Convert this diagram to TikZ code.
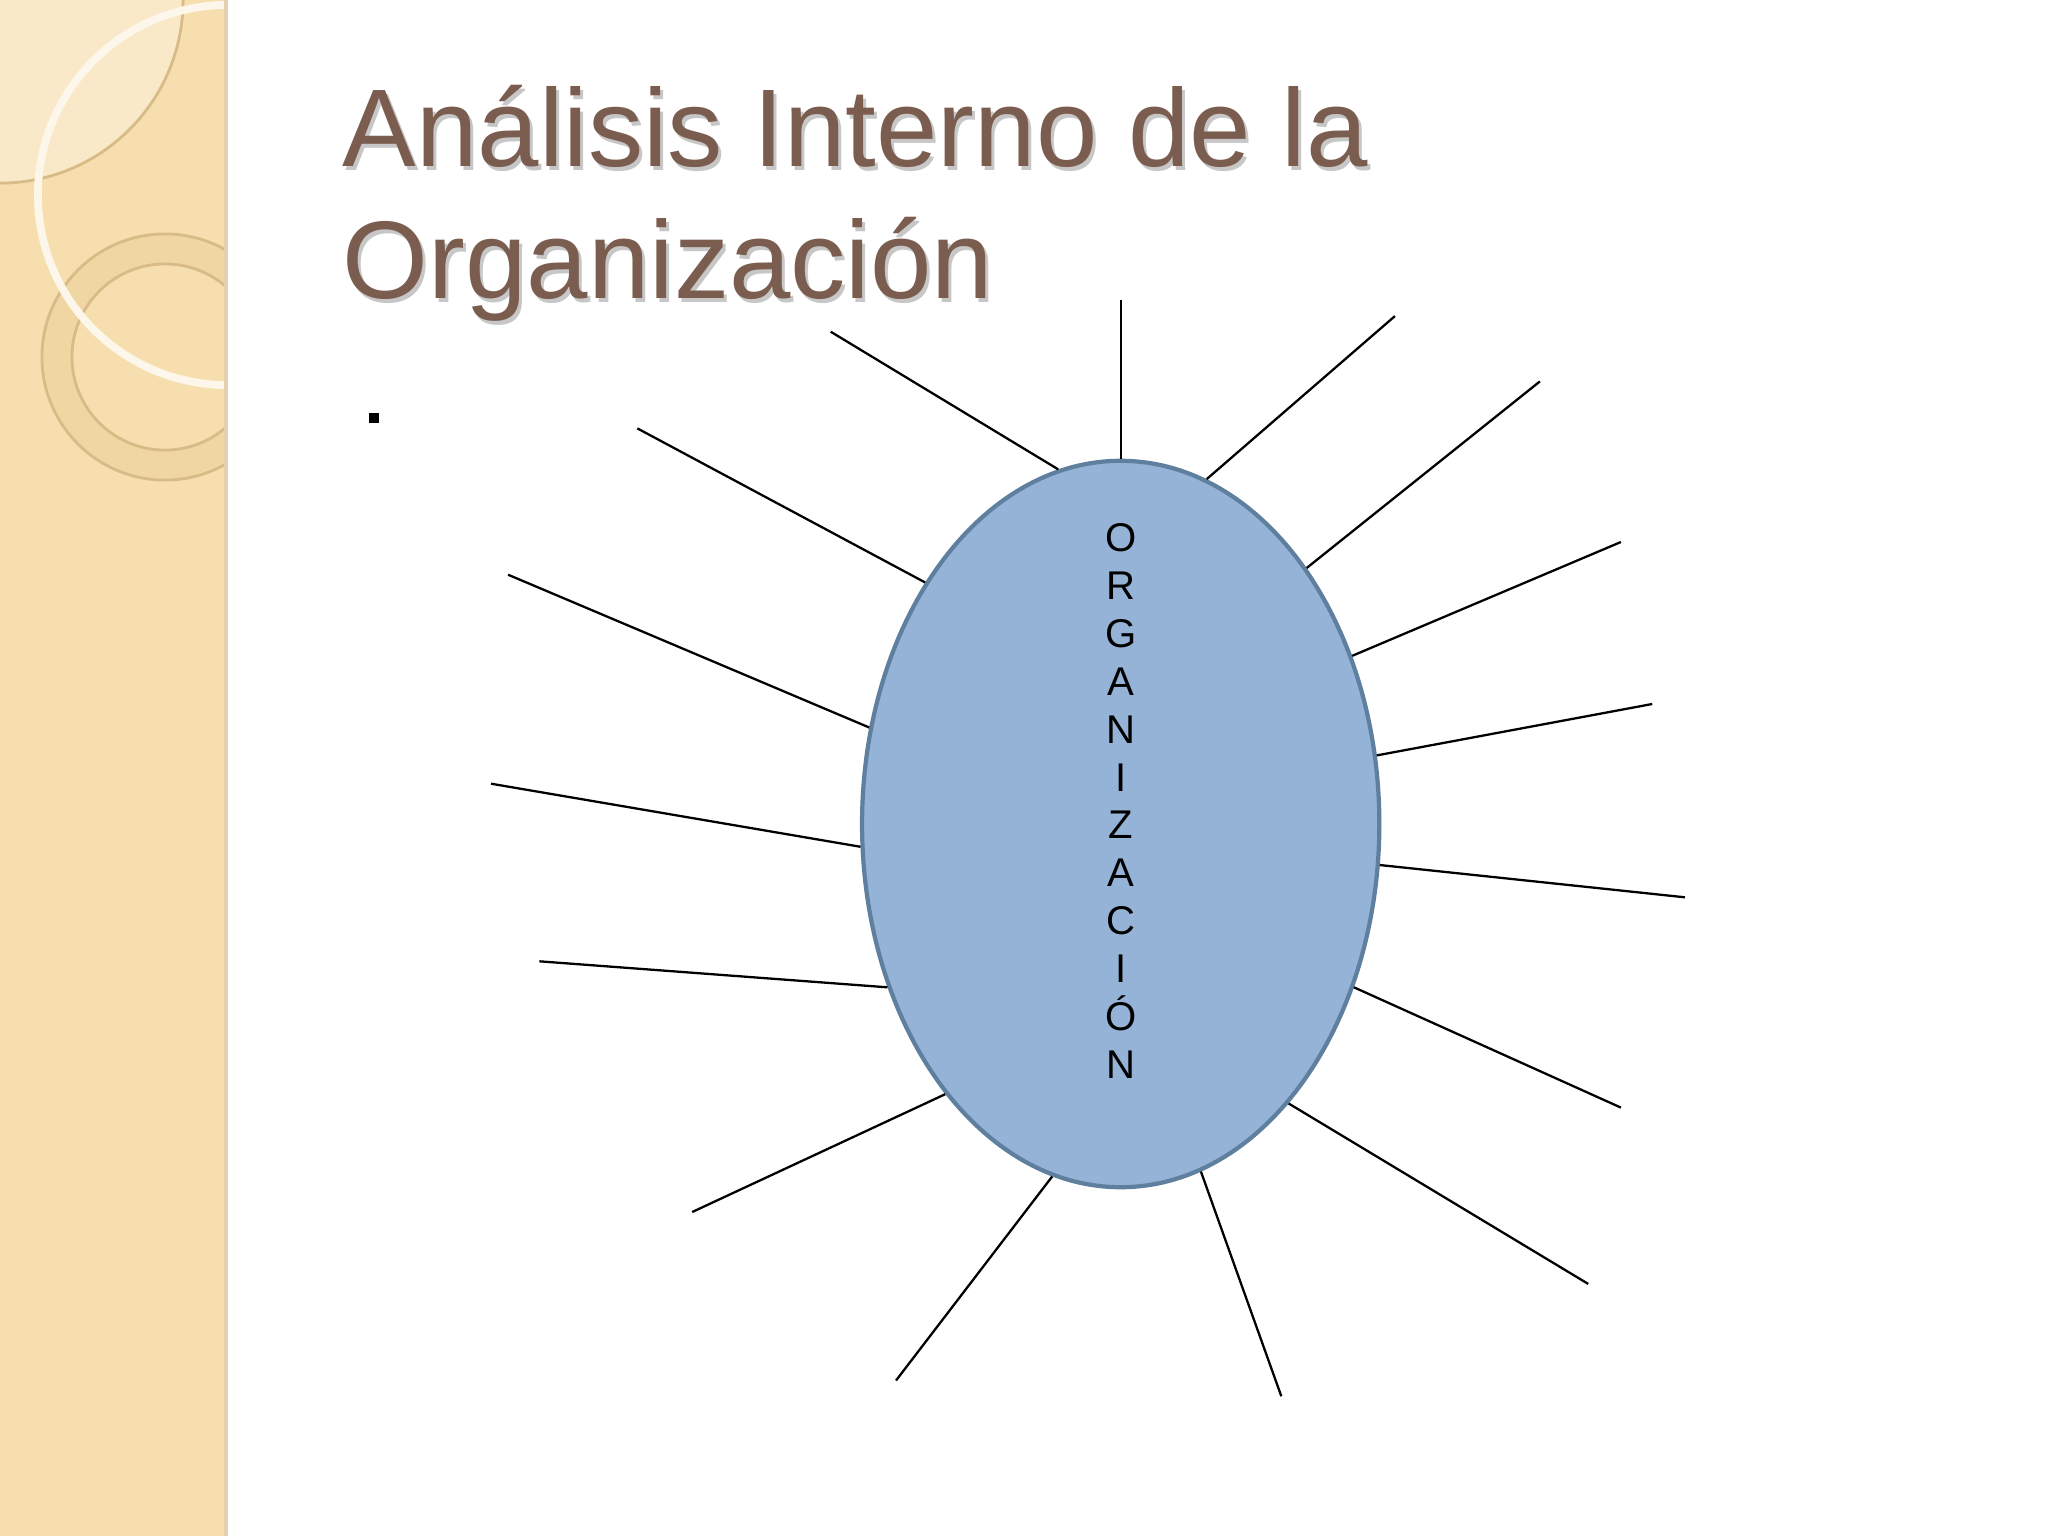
\documentclass[tikz,border=0pt]{standalone}
\usepackage{fontspec}
\setmainfont{Liberation Sans}
\usetikzlibrary{shapes.geometric}
\definecolor{band}{HTML}{F7DEAE}
\definecolor{bandlight}{HTML}{FAE9C8}
\definecolor{ringc}{HTML}{F0D6A2}
\definecolor{ringedge}{HTML}{D8BC88}
\definecolor{titlec}{HTML}{7B5D50}
\definecolor{ellfill}{HTML}{95B3D7}
\definecolor{elldraw}{HTML}{5F7F9E}
\begin{document}
\begin{tikzpicture}[x=0.01cm,y=-0.01cm,
  spoke/.style={line width=0.65pt, black},
  titletext/.style={anchor=base west, inner sep=0, text=titlec, font=\fontsize{31.4pt}{37.5pt}\selectfont},
  titleshadow/.style={anchor=base west, inner sep=0, text=black!22, font=\fontsize{31.4pt}{37.5pt}\selectfont}]
\useasboundingbox (0,0) rectangle (2048,1536);
\fill[white] (0,0) rectangle (2048,1536);
% left decorative band
\begin{scope}
\clip (0,0) rectangle (227,1536);
\fill[band] (0,0) rectangle (227,1536);
\fill[bandlight] (0,0) circle (1.83cm);
\draw[ringedge, line width=0.8pt] (0,0) circle (1.83cm);
\draw[ringc, line width=0.3cm] (165,357) circle (1.08cm);
\draw[ringedge, line width=0.8pt] (165,357) circle (1.23cm);
\draw[ringedge, line width=0.8pt] (165,357) circle (0.93cm);
\draw[white!75!band, line width=2.2pt] (228,195) circle (1.90cm);
\end{scope}
\draw[ringedge!70!white, line width=1.2pt] (226,0) -- (226,1536);
% title
\node[titleshadow] at (345,170) {Análisis Interno de la};
\node[titleshadow] at (345,302) {Organización};
\node[titletext] (t1) at (342,166) {Análisis Interno de la};
\node[titletext] (t2) at (342,298) {Organización};
% bullet
\node[fill=black, minimum size=0.1cm, inner sep=0] (bul) at (373.5,418) {};
% ellipse
\node[ellipse, draw=elldraw, fill=ellfill, line width=1.2pt, minimum width=5.17cm, minimum height=7.26cm, inner sep=0] (org) at (1120.7,824) {};
\node[align=center, inner sep=0, font=\fontsize{11.4pt}{13.63pt}\selectfont] (orgtext) at (1120.7,801)
 {O\\R\\G\\A\\N\\I\\Z\\A\\C\\I\\Ó\\N};
% spoke ends
\coordinate (s1) at (1120.7,300.4);
\coordinate (s2) at (830.7,331.7);
\coordinate (s3) at (637.4,428.4);
\coordinate (s4) at (508.1,574.7);
\coordinate (s5) at (491.1,783.7);
\coordinate (s6) at (539.4,961.3);
\coordinate (s7) at (692.2,1212);
\coordinate (s8) at (896,1380.5);
\coordinate (s9) at (1281.3,1396.2);
\coordinate (s10) at (1588.2,1283.9);
\coordinate (s11) at (1620.9,1107.6);
\coordinate (s12) at (1684.9,897.3);
\coordinate (s13) at (1652.2,704);
\coordinate (s14) at (1620.9,542);
\coordinate (s15) at (1539.9,381.4);
\coordinate (s16) at (1394.9,316.1);
\draw[spoke] (org.90) -- (s1);
\draw[spoke] (org.100.7) -- (s2);
\draw[spoke] (org.129.6) -- (s3);
\draw[spoke] (org.159.8) -- (s4);
\draw[spoke] (org.185.5) -- (s5);
\draw[spoke] (org.215.1) -- (s6);
\draw[spoke] (org.237.8) -- (s7);
\draw[spoke] (org.259.3) -- (s8);
\draw[spoke] (org.283.1) -- (s9);
\draw[spoke] (org.301.3) -- (s10);
\draw[spoke] (org.325.7) -- (s11);
\draw[spoke] (org.351.1) -- (s12);
\draw[spoke] (org.15.8) -- (s13);
\draw[spoke] (org.36.9) -- (s14);
\draw[spoke] (org.54.6) -- (s15);
\draw[spoke] (org.76.9) -- (s16);
\end{tikzpicture}
\end{document}
